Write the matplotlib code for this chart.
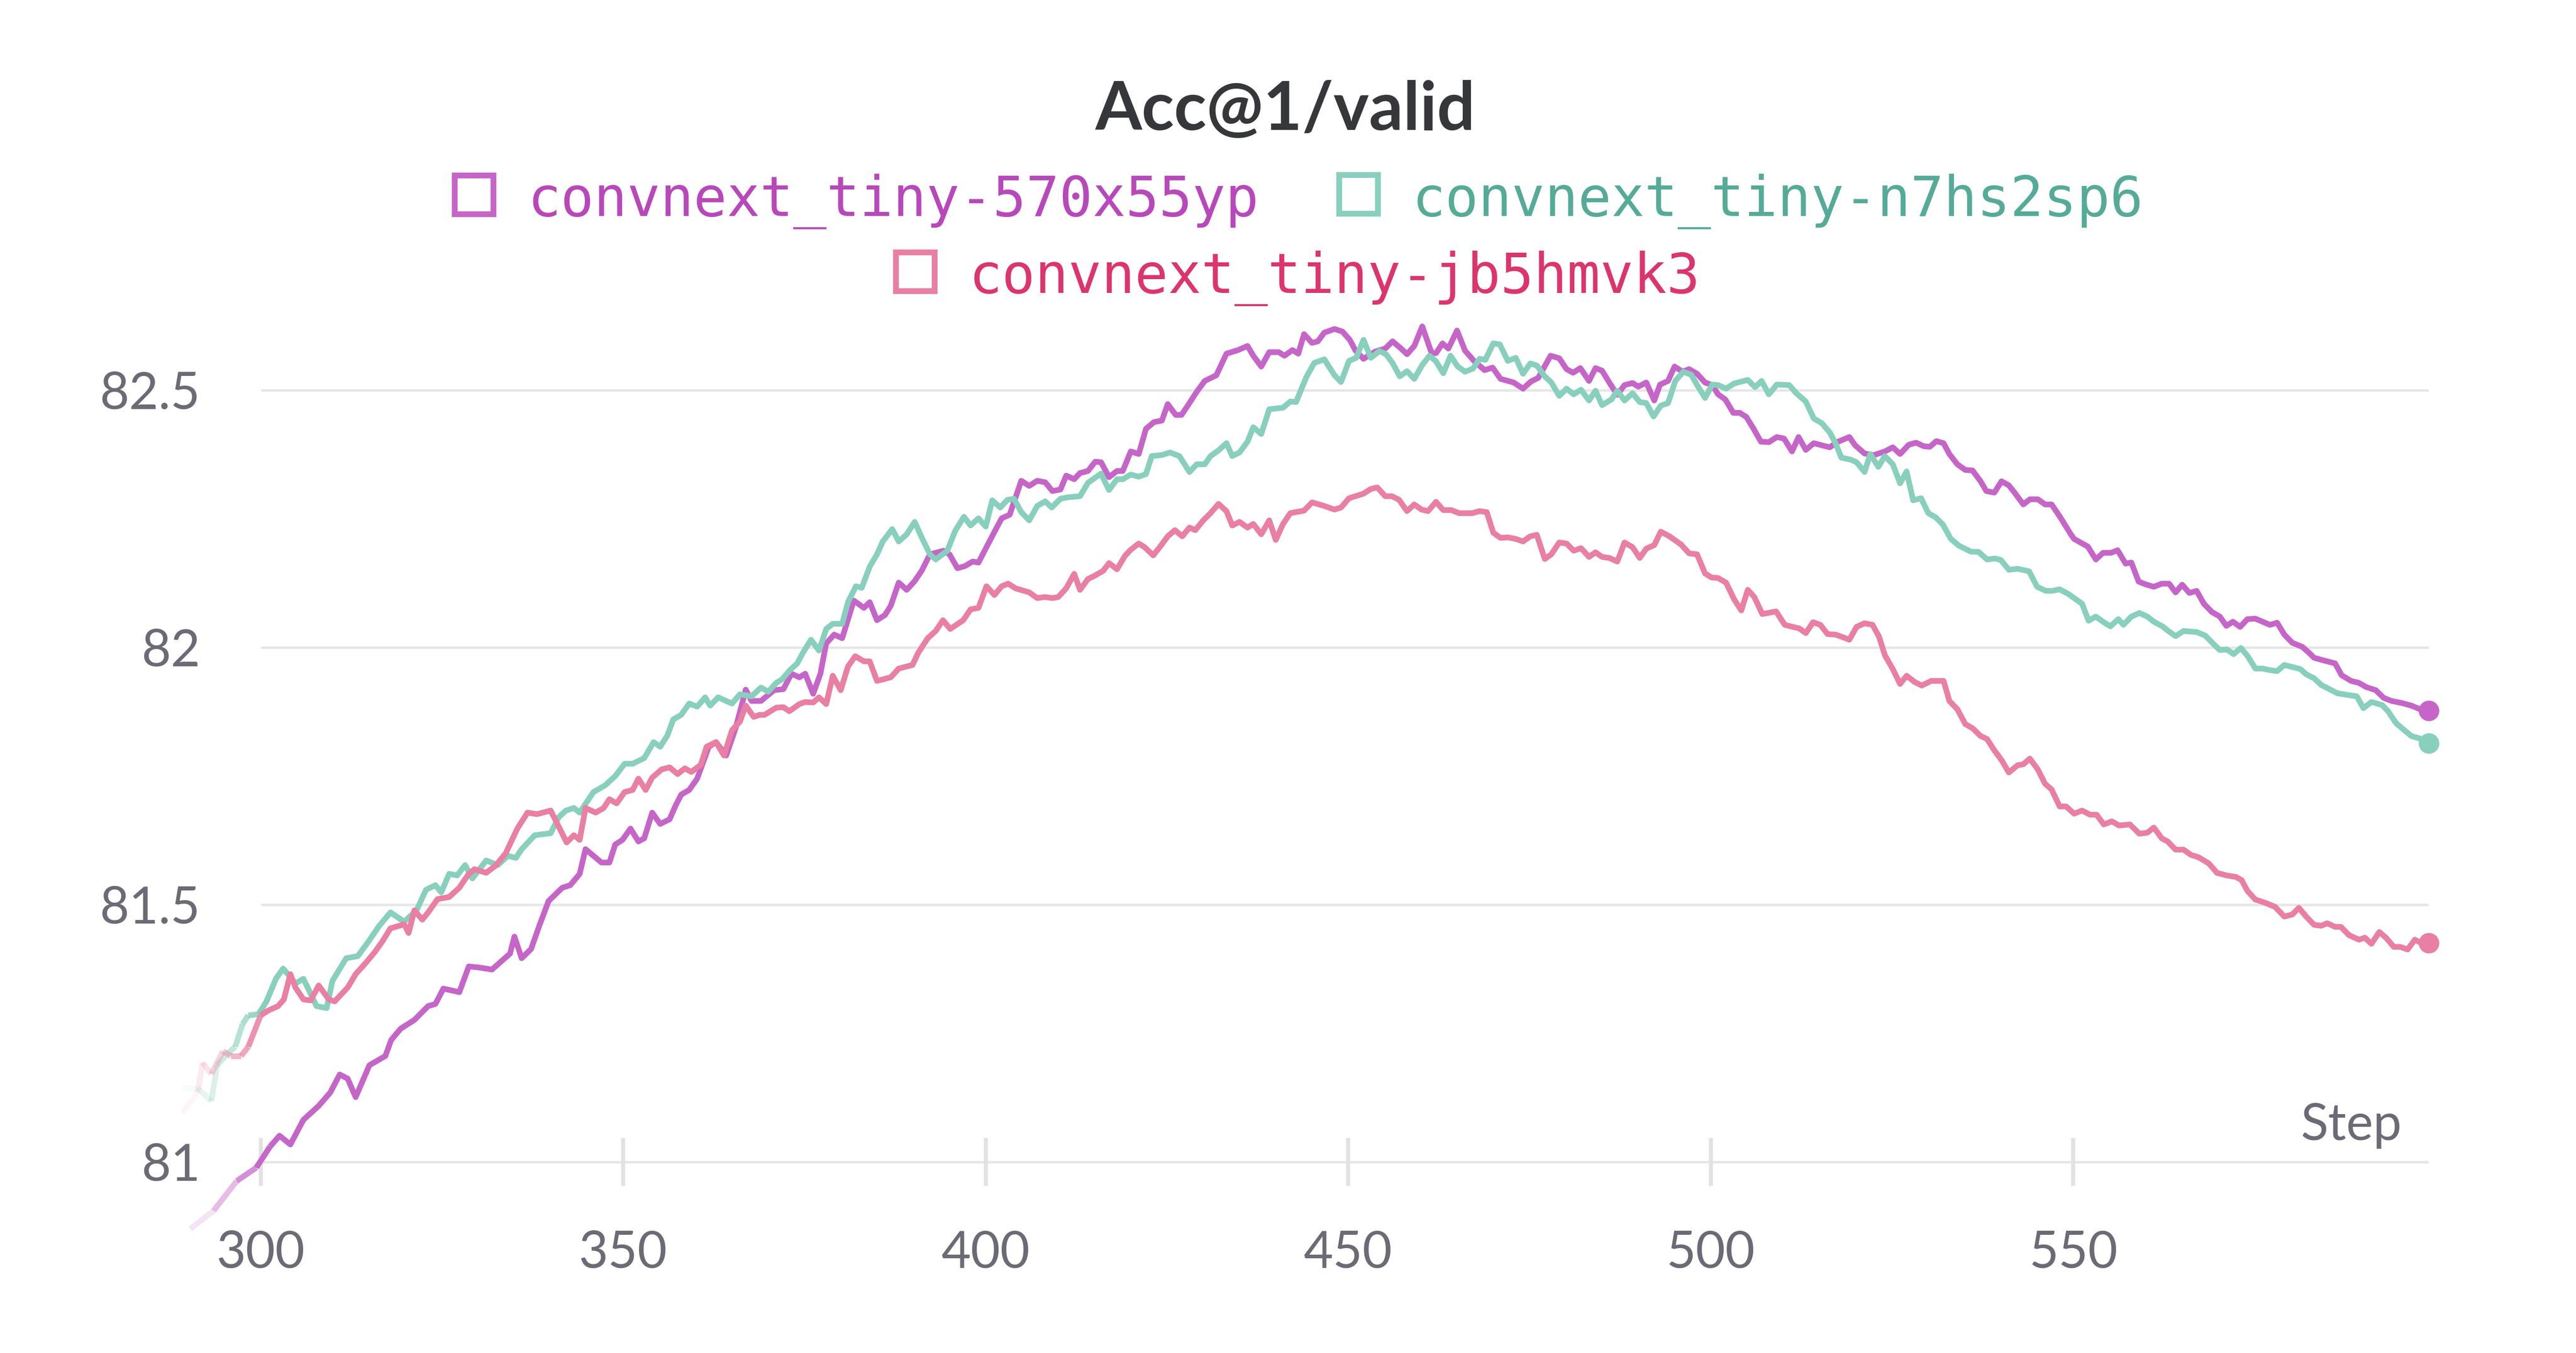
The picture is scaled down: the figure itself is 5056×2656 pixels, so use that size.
import numpy as np
import matplotlib
matplotlib.use("Agg")
import matplotlib.pyplot as plt
from matplotlib.collections import LineCollection
from matplotlib.colors import to_rgba
from matplotlib.lines import Line2D

# ---------------- data (step, Acc@1/valid) ----------------
run_names = ["convnext_tiny-570x55yp", "convnext_tiny-n7hs2sp6", "convnext_tiny-jb5hmvk3"]

run_570x55yp = [
    (290.3,80.870),(293.5,80.905),(296.7,80.963),(299.4,80.989),(301.3,81.030),(302.6,81.051),(304.1,81.034),
    (305.9,81.082),(308.0,81.109),(309.6,81.135),(310.9,81.170),(312.0,81.162),(313.1,81.126),(315.0,81.188),
    (317.2,81.206),(318.0,81.237),(319.3,81.259),(321.2,81.276),(323.1,81.303),(324.1,81.307),(325.2,81.337),
    (327.4,81.330),(328.7,81.380),(330.1,81.378),(331.9,81.374),(334.4,81.405),(335.0,81.438),(336.0,81.396),
    (337.3,81.414),(338.4,81.458),(339.7,81.507),(341.6,81.533),(342.7,81.538),(344.0,81.560),(344.8,81.608),
    (347.0,81.582),(348.1,81.582),(348.9,81.617),(349.9,81.626),(351.0,81.648),(352.1,81.623),(352.9,81.629),
    (354.0,81.679),(355.1,81.657),(356.4,81.666),(357.2,81.692),(358.0,81.714),(359.1,81.723),(360.2,81.745),
    (361.8,81.807),(362.8,81.816),(364.2,81.790),(365.5,81.843),(366.9,81.918),(367.7,81.896),(369.0,81.896),
    (370.8,81.917),(372.1,81.919),(373.2,81.949),(374.3,81.942),(375.1,81.949),(376.2,81.910),(377.2,81.949),
    (378.0,82.008),(379.1,82.025),(380.2,82.018),(381.8,82.091),(383.2,82.077),(384.0,82.088),(385.0,82.053),
    (386.1,82.063),(386.9,82.081),(388.0,82.126),(389.1,82.112),(390.2,82.129),(391.2,82.150),(392.3,82.181),
    (394.2,82.188),(395.0,82.181),(396.1,82.154),(397.1,82.158),(398.2,82.167),(399.0,82.165),(400.1,82.195),
    (401.4,82.230),(402.2,82.251),(403.3,82.258),(404.9,82.324),(406.0,82.314),(407.1,82.324),(408.2,82.321),
    (409.2,82.304),(410.3,82.307),(411.1,82.334),(412.2,82.327),(413.0,82.339),(414.1,82.343),(415.1,82.361),
    (415.9,82.360),(417.0,82.331),(418.1,82.343),(418.9,82.343),(420.0,82.381),(421.1,82.376),(422.1,82.425),
    (423.2,82.438),(424.3,82.441),(425.1,82.473),(426.2,82.452),(427.0,82.452),(428.0,82.473),(429.1,82.497),
    (430.2,82.518),(431.8,82.529),(433.2,82.571),(434.8,82.578),(436.1,82.586),(436.9,82.567),(438.0,82.546),
    (439.1,82.574),(440.4,82.574),(441.2,82.567),(442.3,82.578),(443.1,82.571),(443.9,82.609),(445.0,82.592),
    (445.8,82.595),(446.7,82.612),(448.1,82.619),(449.2,82.614),(450.2,82.598),(451.0,82.577),(452.1,82.561),
    (453.7,82.575),(455.1,82.581),(456.1,82.595),(457.2,82.582),(458.1,82.570),(459.1,82.586),(460.2,82.624),
    (461.5,82.572),(462.1,82.572),(463.0,82.591),(463.8,82.581),(465.0,82.616),(466.1,82.577),(467.4,82.556),
    (468.8,82.539),(469.9,82.544),(471.0,82.522),(472.8,82.515),(474.1,82.503),(475.2,82.517),(476.2,82.524),
    (477.9,82.567),(479.1,82.562),(480.1,82.541),(481.0,82.534),(482.0,82.543),(483.2,82.518),(484.1,82.543),
    (485.0,82.538),(486.0,82.515),(487.1,82.491),(488.1,82.510),(489.2,82.514),(490.0,82.507),(491.1,82.515),
    (492.2,82.480),(493.0,82.511),(494.1,82.518),(495.0,82.546),(496.1,82.536),(497.0,82.541),(498.1,82.532),
    (499.2,82.515),(500.2,82.510),(501.0,82.492),(502.0,82.482),(503.1,82.456),(504.0,82.456),(504.9,82.448),
    (505.9,82.425),(506.9,82.400),(508.0,82.399),(509.1,82.409),(510.1,82.406),(511.2,82.381),(512.1,82.409),
    (513.1,82.384),(514.2,82.397),(515.3,82.393),(516.4,82.389),(517.4,82.399),(519.1,82.409),(519.9,82.393),
    (521.2,82.377),(522.5,82.374),(524.0,82.381),(525.1,82.389),(526.1,82.376),(527.3,82.394),(528.3,82.398),
    (529.4,82.391),(530.2,82.390),(531.1,82.401),(532.1,82.397),(532.9,82.376),(534.0,82.356),(535.1,82.345),
    (536.1,82.344),(537.2,82.323),(538.0,82.304),(539.1,82.301),(540.1,82.323),(541.1,82.315),(542.0,82.299),
    (543.1,82.278),(544.0,82.288),(545.1,82.288),(546.1,82.278),(547.0,82.278),(548.2,82.253),(549.6,82.221),
    (550.1,82.211),(552.0,82.196),(553.1,82.171),(554.1,82.184),(555.2,82.184),(556.1,82.189),(557.2,82.163),
    (558.0,82.165),(559.0,82.128),(560.1,82.122),(561.1,82.118),(562.2,82.124),(563.2,82.124),(564.1,82.107),
    (565.0,82.122),(566.0,82.106),(567.0,82.110),(568.0,82.085),(569.1,82.069),(570.2,82.060),(571.1,82.042),
    (572.0,82.050),(573.0,82.040),(574.0,82.055),(575.1,82.056),(576.1,82.050),(577.1,82.044),(578.1,82.048),
    (579.1,82.025),(580.2,82.009),(581.6,82.001),(582.4,81.991),(583.2,81.980),(584.2,81.976),(586.1,81.969),
    (587.0,81.946),(588.3,81.935),(589.4,81.931),(590.4,81.923),(591.7,81.917),(592.8,81.902),(593.9,81.896),
    (595.3,81.892),(596.6,81.887),(597.8,81.880),(599.0,81.877),
]

run_n7hs2sp6 = [
    (289.2,81.144),(291.3,81.144),(293.2,81.118),(294.0,81.188),(295.4,81.210),(296.5,81.224),(297.5,81.268),
    (298.3,81.285),(299.7,81.287),(300.8,81.312),(302.1,81.356),(303.1,81.376),(304.8,81.347),(305.9,81.356),
    (307.7,81.303),(309.1,81.299),(309.9,81.352),(311.8,81.396),(313.4,81.400),(315.0,81.431),(316.3,81.458),
    (317.9,81.485),(319.8,81.467),(321.5,81.489),(322.8,81.529),(324.1,81.538),(324.9,81.524),(326.0,81.560),
    (327.1,81.557),(328.2,81.577),(329.2,81.551),(331.1,81.586),(332.7,81.577),(334.1,81.595),(335.2,81.591),
    (336.0,81.608),(337.8,81.635),(340.0,81.639),(341.1,81.670),(342.1,81.683),(343.2,81.688),(344.0,81.679),
    (345.9,81.719),(347.5,81.732),(348.9,81.750),(350.2,81.774),(351.3,81.774),(352.9,81.785),(354.2,81.816),
    (355.1,81.807),(356.1,81.829),(356.9,81.860),(358.0,81.869),(359.1,81.891),(360.2,81.885),(361.3,81.903),
    (362.0,81.887),(363.1,81.903),(365.0,81.891),(366.1,81.909),(367.7,81.905),(369.0,81.922),(370.0,81.914),
    (371.1,81.931),(371.9,81.938),(373.0,81.956),(374.0,81.969),(374.8,81.990),(375.9,82.015),(377.0,81.994),
    (378.0,82.036),(378.9,82.046),(380.2,82.046),(381.0,82.088),(382.1,82.119),(382.9,82.116),(384.0,82.157),
    (385.0,82.181),(385.8,82.206),(387.1,82.230),(388.0,82.206),(389.1,82.220),(390.2,82.244),(391.2,82.213),
    (392.3,82.181),(393.1,82.171),(394.7,82.188),(395.8,82.227),(397.0,82.254),(397.9,82.237),(399.0,82.251),
    (400.0,82.235),(400.9,82.286),(402.0,82.272),(403.0,82.287),(403.9,82.289),(404.9,82.263),(406.0,82.247),
    (407.1,82.275),(408.2,82.284),(409.1,82.272),(410.3,82.289),(411.4,82.292),(413.0,82.294),(414.1,82.320),
    (415.9,82.338),(417.0,82.306),(418.1,82.327),(418.9,82.327),(420.0,82.336),(421.1,82.332),(422.1,82.337),
    (422.9,82.372),(424.3,82.374),(425.4,82.379),(426.7,82.372),(428.1,82.341),(429.1,82.356),(430.2,82.356),
    (431.0,82.372),(432.1,82.383),(433.2,82.397),(434.0,82.372),(435.0,82.379),(436.1,82.400),(436.9,82.428),
    (438.0,82.415),(439.1,82.463),(441.0,82.466),(442.0,82.478),(442.8,82.477),(444.2,82.525),(445.3,82.553),
    (446.7,82.560),(448.1,82.529),(449.0,82.516),(450.1,82.557),(451.1,82.563),(452.1,82.598),(453.1,82.563),
    (454.3,82.576),(455.2,82.570),(456.1,82.553),(457.1,82.527),(458.1,82.537),(459.1,82.522),(460.2,82.549),
    (461.2,82.567),(462.1,82.556),(463.1,82.533),(464.1,82.567),(465.1,82.546),(466.1,82.536),(467.2,82.542),
    (468.1,82.561),(468.9,82.559),(470.0,82.591),(470.9,82.589),(472.0,82.557),(473.1,82.563),(474.1,82.532),
    (475.1,82.552),(476.0,82.548),(477.1,82.527),(478.0,82.515),(479.1,82.489),(480.1,82.503),(481.1,82.492),
    (482.1,82.501),(483.2,82.480),(484.1,82.499),(485.0,82.471),(486.3,82.482),(487.1,82.499),(488.1,82.480),
    (489.2,82.494),(490.2,82.477),(491.1,82.475),(492.1,82.449),(493.1,82.470),(494.1,82.475),(495.1,82.518),
    (496.2,82.536),(497.3,82.530),(498.2,82.508),(499.2,82.485),(500.2,82.511),(501.0,82.510),(502.1,82.503),
    (503.2,82.513),(505.1,82.520),(506.1,82.506),(507.0,82.518),(508.0,82.492),(509.1,82.511),(510.8,82.510),
    (511.8,82.494),(513.1,82.478),(514.2,82.445),(515.3,82.436),(516.4,82.418),(517.2,82.397),(518.0,82.369),
    (519.3,82.365),(520.1,82.360),(521.2,82.341),(522.0,82.376),(523.1,82.351),(524.0,82.372),(525.1,82.356),
    (526.1,82.319),(527.0,82.342),(527.9,82.286),(529.0,82.290),(530.0,82.261),(531.0,82.253),(532.0,82.239),
    (533.1,82.211),(534.2,82.198),(535.9,82.186),(536.9,82.186),(538.1,82.171),(539.2,82.173),(540.0,82.170),
    (541.1,82.151),(542.3,82.153),(543.9,82.148),(545.0,82.118),(546.2,82.110),(547.1,82.110),(548.1,82.113),
    (549.3,82.104),(551.2,82.085),(552.1,82.052),(553.1,82.060),(554.1,82.050),(555.1,82.041),(556.2,82.055),
    (556.9,82.044),(558.0,82.060),(559.1,82.067),(560.2,82.060),(561.1,82.050),(562.3,82.041),(563.0,82.033),
    (564.1,82.022),(565.2,82.032),(567.0,82.030),(568.2,82.023),(569.3,82.007),(570.2,81.995),(571.2,81.996),
    (572.1,81.987),(573.1,81.999),(574.0,81.984),(575.1,81.959),(576.1,81.959),(577.1,81.956),(578.1,81.954),
    (579.1,81.966),(580.2,81.962),(581.3,81.958),(582.1,81.948),(583.2,81.940),(584.2,81.927),(585.3,81.919),
    (586.4,81.911),(587.7,81.908),(589.1,81.905),(590.0,81.882),(591.1,81.894),(592.6,81.888),(593.4,81.876),
    (594.5,81.853),(595.5,81.841),(596.6,81.828),(597.8,81.823),(599.0,81.814),
]

run_jb5hmvk3 = [
    (289.2,81.095),(291.3,81.135),(292.0,81.193),(293.2,81.171),(294.8,81.215),(295.9,81.206),(297.3,81.206),
    (298.3,81.224),(300.0,81.285),(301.0,81.294),(302.4,81.303),(303.2,81.316),(304.1,81.365),(304.8,81.339),
    (305.9,81.316),(306.9,81.314),(308.0,81.343),(309.4,81.316),(310.2,81.312),(312.0,81.339),(313.1,81.365),
    (314.5,81.387),(315.8,81.409),(316.9,81.431),(317.9,81.454),(319.8,81.462),(320.4,81.445),(321.2,81.489),
    (322.3,81.471),(323.1,81.485),(324.4,81.511),(326.0,81.515),(327.4,81.533),(328.7,81.560),(329.5,81.569),
    (331.1,81.562),(332.4,81.576),(333.8,81.600),(335.4,81.648),(336.8,81.679),(338.1,81.676),(340.0,81.683),
    (341.1,81.652),(342.2,81.621),(343.2,81.635),(344.0,81.626),(344.8,81.688),(346.2,81.679),(347.3,81.688),
    (348.1,81.705),(349.1,81.697),(350.2,81.719),(351.3,81.723),(352.1,81.745),(353.1,81.723),(354.0,81.747),
    (355.3,81.763),(356.4,81.767),(357.5,81.754),(358.5,81.765),(359.4,81.758),(360.7,81.772),(361.5,81.807),
    (362.8,81.816),(363.9,81.790),(365.0,81.839),(366.1,81.856),(366.9,81.887),(368.0,81.865),(368.8,81.869),
    (369.5,81.869),(371.1,81.883),(372.1,81.884),(372.9,81.876),(374.3,81.890),(375.1,81.894),(376.2,81.893),
    (377.0,81.903),(378.0,81.890),(378.9,81.945),(380.0,81.917),(381.0,81.963),(382.0,81.983),(383.2,81.973),
    (384.0,81.973),(385.0,81.935),(386.9,81.942),(388.0,81.959),(389.9,81.966),(390.7,81.990),(392.0,82.018),
    (393.1,82.032),(394.1,82.053),(395.1,82.036),(396.9,82.053),(397.9,82.074),(399.0,82.077),(400.1,82.119),
    (401.2,82.102),(402.2,82.119),(403.1,82.124),(404.1,82.115),(406.0,82.107),(407.1,82.096),(408.2,82.098),
    (409.2,82.096),(410.0,82.098),(411.1,82.115),(412.2,82.143),(413.0,82.112),(414.1,82.133),(415.1,82.140),
    (416.2,82.149),(417.0,82.164),(418.1,82.152),(419.2,82.178),(420.0,82.190),(421.1,82.202),(421.9,82.195),
    (423.1,82.179),(424.0,82.195),(425.1,82.216),(426.1,82.228),(427.1,82.216),(428.1,82.233),(428.9,82.228),
    (430.0,82.247),(431.0,82.261),(432.1,82.279),(433.2,82.265),(434.0,82.237),(435.0,82.244),(436.1,82.233),
    (436.9,82.240),(438.0,82.220),(439.1,82.247),(440.0,82.209),(441.0,82.240),(442.0,82.261),(443.9,82.266),
    (445.0,82.282),(446.7,82.275),(448.1,82.268),(449.0,82.272),(450.1,82.290),(451.0,82.294),(452.1,82.299),
    (453.1,82.308),(454.0,82.311),(455.1,82.294),(456.0,82.294),(457.0,82.287),(458.1,82.265),(459.1,82.278),
    (460.1,82.268),(461.0,82.265),(462.1,82.283),(463.1,82.267),(464.2,82.267),(465.3,82.261),(467.1,82.261),
    (468.1,82.265),(469.1,82.263),(470.0,82.223),(471.0,82.213),(472.0,82.214),(473.1,82.211),(474.1,82.206),
    (475.1,82.216),(476.0,82.219),(477.1,82.172),(478.0,82.181),(479.1,82.204),(480.1,82.202),(481.1,82.188),
    (482.1,82.193),(483.2,82.176),(484.1,82.185),(485.0,82.176),(486.0,82.174),(487.1,82.167),(488.1,82.204),
    (489.2,82.195),(490.2,82.174),(491.1,82.192),(492.2,82.199),(493.1,82.225),(494.3,82.216),(495.9,82.200),
    (497.0,82.183),(498.1,82.181),(499.2,82.144),(500.1,82.136),(501.0,82.135),(502.1,82.126),(503.2,82.094),
    (504.2,82.072),(505.1,82.112),(506.0,82.098),(507.1,82.065),(509.0,82.070),(510.2,82.044),(511.3,82.040),
    (512.2,82.037),(513.1,82.028),(514.1,82.049),(515.1,82.044),(516.1,82.026),(517.2,82.025),(518.2,82.020),
    (519.1,82.015),(520.1,82.040),(521.2,82.047),(522.3,82.044),(523.2,82.021),(524.0,81.985),(525.1,81.958),
    (526.1,81.929),(527.0,81.945),(528.1,81.933),(529.1,81.926),(530.4,81.935),(532.1,81.935),(532.9,81.896),
    (534.0,81.880),(535.1,81.851),(536.1,81.843),(537.2,81.828),(538.1,81.822),(539.0,81.802),(540.1,81.781),
    (541.1,81.757),(542.3,81.771),(543.1,81.773),(544.0,81.784),(545.1,81.763),(546.1,81.735),(547.0,81.724),
    (548.1,81.691),(549.0,81.691),(550.1,81.677),(551.2,81.683),(552.3,81.675),(553.2,81.675),(554.2,81.656),
    (555.3,81.662),(556.3,81.654),(557.8,81.656),(559.1,81.638),(560.2,81.640),(561.1,81.650),(562.2,81.629),
    (563.0,81.623),(564.1,81.607),(565.2,81.607),(566.2,81.597),(567.3,81.592),(568.7,81.580),(569.8,81.562),
    (571.1,81.557),(572.4,81.554),(573.2,81.548),(574.0,81.527),(575.1,81.510),(576.4,81.504),(577.8,81.496),
    (579.1,81.477),(580.2,81.481),(581.1,81.494),(582.1,81.477),(583.2,81.461),(584.2,81.459),(585.0,81.464),
    (586.1,81.457),(586.9,81.457),(588.0,81.441),(589.4,81.432),(590.2,81.436),(591.1,81.424),(592.2,81.447),
    (593.1,81.436),(594.2,81.418),(595.1,81.418),(596.1,81.413),(597.1,81.432),(597.9,81.426),(599.0,81.426),
]

x_ticks = [300, 350, 400, 450, 500, 550]
y_ticks = [81, 81.5, 82, 82.5]
y_tick_labels = ["81", "81.5", "82", "82.5"]

# ---------------- style ----------------
line_colors = ["#c565c8", "#88cfbd", "#e97fa2"]
text_colors = ["#b848ba", "#55ab97", "#dc356b"]
tick_color = "#6b6b76"
grid_color = "#e6e6e6"
LW = 4.0

W, H, DPI = 5056, 2656, 200
fig = plt.figure(figsize=(W / DPI, H / DPI), dpi=DPI)
fig.patch.set_facecolor("white")

def fx(px):
    return px / W

def fy(py):
    return 1 - py / H

ax = fig.add_axes([0.06741, 0.08415, 0.9428 - 0.06741, 0.77244 - 0.08415])
ax.set_xlim(288, 599)
ax.set_ylim(80.85, 82.66)
for s in ax.spines.values():
    s.set_visible(False)
ax.spines["bottom"].set_position(("data", 81))

last_step = max(p[0] for p in run_570x55yp)
ax.hlines(y_ticks, x_ticks[0], last_step, colors=grid_color, linewidth=1.7, zorder=0)

def draw_run(pairs, color, z):
    st = np.array([p[0] for p in pairs])
    va = np.array([p[1] for p in pairs])
    idx = int(np.argmax(st >= 299.5))
    pts = np.column_stack([st[: idx + 1], va[: idx + 1]])
    segs = [pts[i:i + 2] for i in range(len(pts) - 1)]
    mids = (st[:idx] + st[1:idx + 1]) / 2
    alphas = np.clip((mids - 288.5) / (300.5 - 288.5), 0.02, 1) ** 1.4
    lc = LineCollection(segs, colors=[to_rgba(color, a) for a in alphas],
                        linewidths=LW, capstyle="butt", zorder=z)
    ax.add_collection(lc)
    ax.plot(st[idx:], va[idx:], color=color, lw=LW, zorder=z,
            solid_joinstyle="round", solid_capstyle="butt")
    ax.plot([st[-1]], [va[-1]], "o", color=color, ms=14.5, mec="none",
            zorder=z + 0.5, clip_on=False)

for i, run in enumerate([run_570x55yp, run_n7hs2sp6, run_jb5hmvk3]):
    draw_run(run, line_colors[i], 3 + i)

ax.set_xticks(x_ticks)
ax.set_xticklabels([str(t) for t in x_ticks])
ax.set_yticks(y_ticks)
ax.set_yticklabels(y_tick_labels)
ax.tick_params(axis="x", direction="inout", length=34, width=2.8, color="#e2e2e2",
               pad=31, labelsize=36, labelcolor=tick_color)
ax.tick_params(axis="y", length=0, pad=-18.8, labelsize=36, labelcolor=tick_color)
for lab in ax.get_xticklabels() + ax.get_yticklabels():
    lab.set_fontfamily("Lato")

fig.text(fx(4714), fy(2238), "Step", ha="right", va="baseline",
         fontsize=36, color=tick_color, family="Lato")

# title
fig.text(fx(2523), fy(255), "Acc@1/valid", ha="center", va="baseline",
         fontsize=47.5, fontweight="bold", color="#35373a", family="Lato")

# legend
legend_items = [
    (930, 382, 1036, 424),
    (2666, 381, 2772, 424),
    (1796, 533, 1902, 575),
]
for i, (sx, sy, tx, ty) in enumerate(legend_items):
    fig.add_artist(Line2D([fx(sx)], [fy(sy)], marker="s", ms=27.2, mew=4.1,
                          mfc="none", mec=line_colors[i], linestyle="none",
                          transform=fig.transFigure))
    fig.text(fx(tx), fy(ty), run_names[i], ha="left", va="baseline",
             fontsize=39, color=text_colors[i], family="DejaVu Sans Mono")

fig.savefig("out.png", dpi=DPI, facecolor="white")
